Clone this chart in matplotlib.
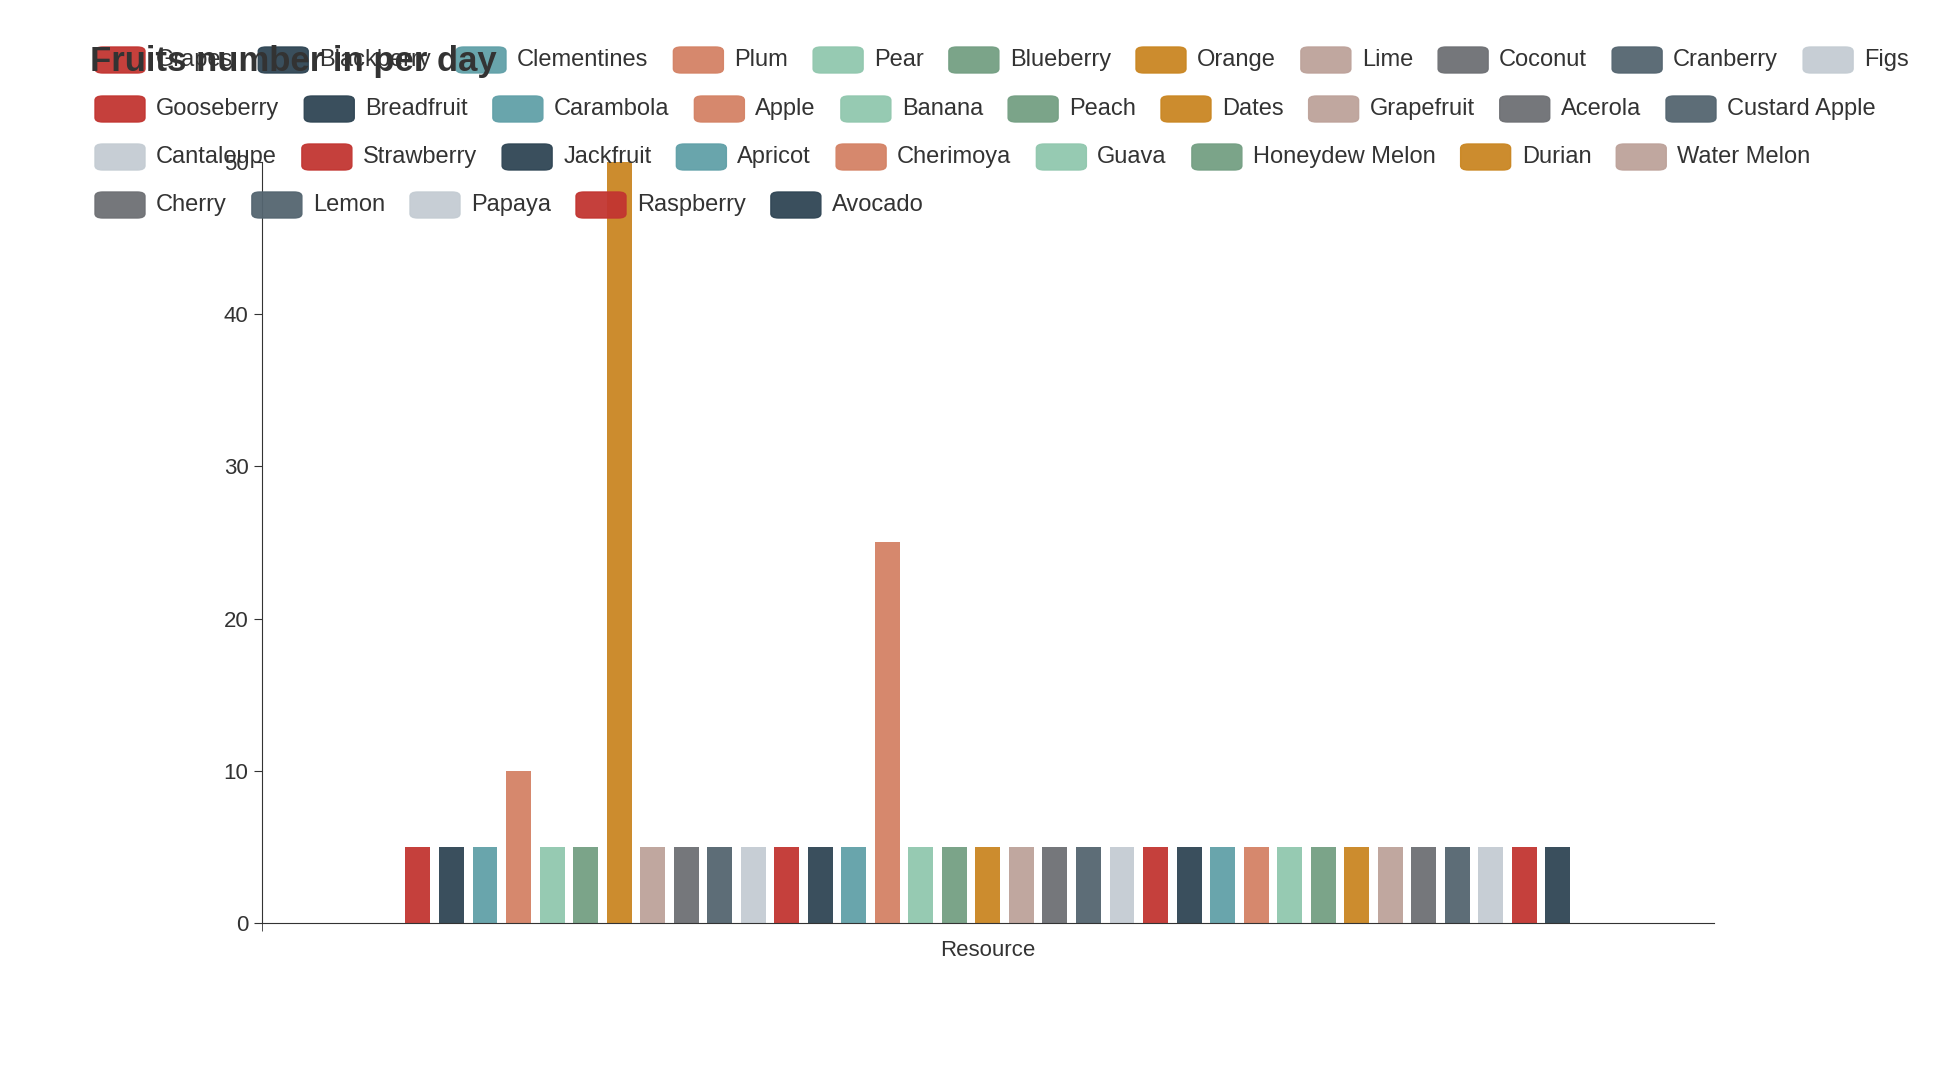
import matplotlib
matplotlib.use("Agg")
import matplotlib.pyplot as plt
from matplotlib.patches import FancyBboxPatch

plt.rcParams["font.family"] = "Liberation Sans"

fruits = ["Grapes", "Blackberry", "Clementines", "Plum", "Pear", "Blueberry", "Orange",
          "Lime", "Coconut", "Cranberry", "Figs", "Gooseberry", "Breadfruit", "Carambola",
          "Apple", "Banana", "Peach", "Dates", "Grapefruit", "Acerola", "Custard Apple",
          "Cantaloupe", "Strawberry", "Jackfruit", "Apricot", "Cherimoya", "Guava",
          "Honeydew Melon", "Durian", "Water Melon", "Cherry", "Lemon", "Papaya",
          "Raspberry", "Avocado"]
values = [5, 5, 5, 10, 5, 5, 50, 5, 5, 5, 5, 5, 5, 5, 25, 5, 5, 5, 5, 5, 5,
          5, 5, 5, 5, 5, 5, 5, 5, 5, 5, 5, 5, 5, 5]
legend_rows = [fruits[0:11], fruits[11:21], fruits[21:30], fruits[30:35]]
palette = ["#c23531", "#2f4554", "#61a0a8", "#d48265", "#91c7ae", "#749f83",
           "#ca8622", "#bda29a", "#6e7074", "#546570", "#c4ccd3"]
colors = [palette[i % len(palette)] for i in range(len(fruits))]

W, H = 1942, 1070
fig = plt.figure(figsize=(W / 100, H / 100), dpi=100, facecolor="white")
ax = fig.add_axes([0.1347, 0.1375, 0.748, 0.711])

n = len(fruits)
step = 0.02308
width = 0.0172
xs = [(i - (n - 1) / 2) * step for i in range(n)]
ax.bar(xs, values, width=width, color=colors, alpha=0.95)
ax.set_xlim(-0.5, 0.5)
ax.set_ylim(0, 50)
ax.set_yticks(range(0, 51, 10))
ax.set_xticks([0])
ax.set_xticklabels(["Resource"])
ax.tick_params(axis="x", length=0, pad=12, labelsize=16, colors="#333333")
ax.tick_params(axis="y", length=6, labelsize=16, colors="#333333")
ax.set_xticks([-0.5], minor=True)
ax.tick_params(axis="x", which="minor", length=6, color="#333333")
for s in ["top", "right"]:
    ax.spines[s].set_visible(False)
for s in ["left", "bottom"]:
    ax.spines[s].set_color("#333333")

# legend, laid out in pixels
fig.canvas.draw()
renderer = fig.canvas.get_renderer()
row_y = [60, 109, 157, 205]
k = 0
for r, row in enumerate(legend_rows):
    x = 95
    for name in row:
        yc = H - row_y[r]
        fig.patches.append(FancyBboxPatch((x / W, (yc - 13) / H), 50 / W, 26 / H,
                           boxstyle="round,pad=0,rounding_size=0.004",
                           transform=fig.transFigure, color=colors[k], alpha=0.95))
        t = fig.text((x + 61) / W, yc / H, name, fontsize=17, color="#333333",
                     va="center", ha="left")
        tw = t.get_window_extent(renderer).width
        x += 61 + tw + 25
        k += 1

fig.text(90 / W, (H - 62) / H, "Fruits number in per day", fontsize=25,
         fontweight="bold", color="#333333", va="center", ha="left")

fig.savefig("out.png", dpi=100, facecolor="white")
